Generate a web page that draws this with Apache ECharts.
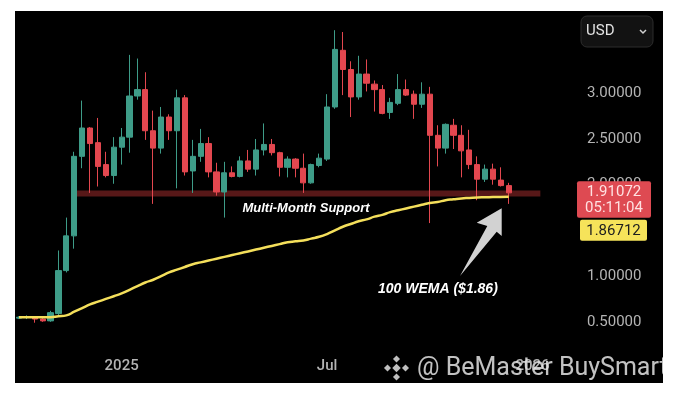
<!DOCTYPE html>
<html>
<head>
<meta charset="utf-8">
<script src="https://cdn.jsdelivr.net/npm/echarts@6/dist/echarts.min.js"></script>
<style>
  html, body { margin: 0; padding: 0; background: #fff; }
  #chart { position: absolute; left: 15px; top: 11px; width: 648px; height: 372px; background: #000; }
</style>
</head>
<body>
<div id="chart"></div>
<script>
// weekly candles, first one is the week of 2024-10-07
var startDay = Date.UTC(2024, 9, 7);
var weekCount = 71;
var weeks = [];
for (var k = 0; k < weekCount; k++) {
  weeks.push(new Date(startDay + k * 7 * 864e5).toISOString().slice(0, 10));
}

var tickDates = ['2025-01-06', '2025-07-07', '2026-01-05'];
var tickTexts = ['2025', 'Jul', '2026'];

var opens  = [0.54, 0.55, 0.555, 0.53, 0.51, 0.59, 1.06, 1.44, 2.31, 2.62, 2.46, 2.22, 2.10, 2.41, 2.52, 2.97, 3.04, 2.59, 2.40, 2.74, 2.59, 2.95, 2.15, 2.31, 2.45, 2.14, 1.92, 2.13, 2.09, 2.26, 2.17, 2.38, 2.44, 2.35, 2.19, 2.28, 2.18, 2.02, 2.21, 2.28, 2.85, 3.47, 3.26, 2.96, 3.21, 3.10, 3.04, 2.79, 2.89, 3.04, 2.99, 2.88, 2.99, 2.54, 2.40, 2.65, 2.54, 2.38, 2.22, 2.06, 2.17, 2.05, 1.99];
var closes = [0.55, 0.555, 0.53, 0.51, 0.60, 1.06, 1.44, 2.31, 2.62, 2.45, 2.20, 2.10, 2.41, 2.52, 2.97, 3.04, 2.59, 2.40, 2.74, 2.59, 2.95, 2.14, 2.31, 2.45, 2.14, 1.92, 2.13, 2.09, 2.26, 2.17, 2.38, 2.44, 2.35, 2.19, 2.28, 2.18, 2.02, 2.22, 2.29, 2.85, 3.48, 3.26, 2.96, 3.21, 3.11, 3.04, 2.78, 2.90, 3.04, 2.98, 2.88, 2.99, 2.54, 2.40, 2.66, 2.54, 2.37, 2.22, 2.06, 2.17, 2.06, 1.99, 1.91072];
var lows   = [0.53, 0.53, 0.49, 0.50, 0.50, 0.57, 1.04, 1.30, 2.18, 1.91, 1.98, 2.08, 2.01, 2.22, 2.35, 2.93, 2.49, 1.79, 2.34, 2.49, 1.96, 2.10, 1.91, 2.25, 2.08, 1.88, 1.64, 2.08, 2.08, 2.14, 2.10, 2.32, 2.32, 2.09, 2.08, 2.08, 1.91, 2.01, 2.19, 2.26, 2.83, 2.98, 2.74, 2.93, 3.02, 2.80, 2.77, 2.72, 2.87, 2.97, 2.72, 2.84, 1.58, 2.20, 2.34, 2.39, 2.08, 2.17, 1.83, 2.03, 2.00, 1.98, 1.79];
var highs  = [0.56, 0.57, 0.56, 0.54, 0.62, 1.28, 1.64, 2.36, 2.92, 2.63, 2.73, 2.36, 2.52, 2.62, 3.42, 3.38, 3.23, 2.81, 2.85, 2.77, 3.04, 2.98, 2.49, 2.61, 2.52, 2.24, 2.25, 2.20, 2.31, 2.38, 2.50, 2.67, 2.50, 2.36, 2.31, 2.29, 2.34, 2.23, 2.34, 2.99, 3.69, 3.67, 3.35, 3.41, 3.37, 3.14, 3.09, 2.95, 3.21, 3.15, 3.03, 3.12, 3.07, 2.65, 2.67, 2.72, 2.65, 2.60, 2.31, 2.22, 2.23, 2.19, 2.02];

// 100 week EMA
var wema = [0.55, 0.55, 0.55, 0.55, 0.55, 0.56, 0.57, 0.61, 0.65, 0.69, 0.72, 0.75, 0.78, 0.81, 0.85, 0.89, 0.93, 0.96, 1.00, 1.04, 1.07, 1.10, 1.13, 1.15, 1.17, 1.19, 1.21, 1.23, 1.25, 1.27, 1.29, 1.31, 1.33, 1.35, 1.37, 1.38, 1.39, 1.41, 1.43, 1.46, 1.50, 1.54, 1.57, 1.60, 1.62, 1.65, 1.67, 1.70, 1.72, 1.74, 1.76, 1.78, 1.80, 1.81, 1.83, 1.84, 1.85, 1.855, 1.86, 1.862, 1.864, 1.866, 1.86712];

var supportLow = 1.87;
var supportHigh = 1.935;
var supportFrom = '2024-11-25';
var supportTo = '2026-01-12';

var countdown = '05:11:04';

var upColor = '#3e9c88';
var downColor = '#e3474f';

var candleData = [];
for (var i = 0; i < opens.length; i++) {
  candleData.push([opens[i], closes[i], lows[i], highs[i]]);
}

var mychart = echarts.init(document.getElementById('chart'));

var option = {
  backgroundColor: '#000',
  animation: false,
  grid: {
    left: 0,
    right: 87.1,
    top: 0,
    bottom: 15.5
  },
  xAxis: {
    type: 'category',
    data: weeks,
    boundaryGap: true,
    axisLine: { show: false },
    axisTick: { show: false },
    splitLine: { show: false },
    axisLabel: {
      interval: function (idx, value) { return tickDates.indexOf(value) >= 0; },
      formatter: function (value) {
        var n = tickDates.indexOf(value);
        return n >= 0 ? tickTexts[n] : '';
      },
      color: '#b4b4b4',
      fontFamily: 'Roboto',
      fontWeight: 500,
      fontSize: 15,
      margin: -9
    }
  },
  yAxis: {
    type: 'value',
    position: 'right',
    min: 0,
    max: 3.9,
    interval: 0.5,
    axisLine: { show: false },
    axisTick: { show: false },
    splitLine: { show: false },
    axisLabel: {
      color: '#b4b4b4',
      fontFamily: 'Roboto',
      fontSize: 15,
      margin: 11,
      showMaxLabel: false,
      formatter: function (v) {
        return (v >= 0.5 && v <= 3.0) ? v.toFixed(5) : '';
      }
    }
  },
  series: [
    {
      type: 'candlestick',
      data: candleData,
      barWidth: 5.7,
      z: 3,
      itemStyle: {
        color: upColor,
        color0: downColor,
        borderColor: upColor,
        borderColor0: downColor,
        borderWidth: 1
      },
      markArea: {
        silent: true,
        itemStyle: { color: 'rgba(140, 38, 38, 0.62)' },
        data: [[
          { xAxis: supportFrom, yAxis: supportLow },
          { xAxis: supportTo, yAxis: supportHigh }
        ]]
      }
    },
    {
      type: 'line',
      data: wema,
      symbol: 'none',
      smooth: true,
      z: 4,
      lineStyle: { color: '#f4df5b', width: 2.5 }
    }
  ]
};

mychart.setOption(option);

// price tags on the right, anchored to the last close
var lastClose = closes[closes.length - 1];
var lastWema = wema[wema.length - 1];
var closeY = mychart.convertToPixel({ yAxisIndex: 0 }, lastClose);
var tagTop = closeY - 11.5;

mychart.setOption({
  graphic: [
    {
      type: 'group',
      children: [
        // USD selector
        {
          type: 'rect',
          shape: { x: 566, y: 5, width: 72, height: 31, r: 6 },
          style: { fill: '#121212', stroke: '#2c2c2c', lineWidth: 1 }
        },
        {
          type: 'text',
          style: { x: 571, y: 20.5, text: 'USD', fill: '#e2e2e2', font: '15px Roboto', verticalAlign: 'middle' }
        },
        {
          type: 'polyline',
          shape: { points: [[625, 19], [628, 22], [631, 19]] },
          style: { stroke: '#d0d0d0', lineWidth: 1.5, fill: null }
        },
        // last price tag
        {
          type: 'rect',
          z: 10,
          shape: { x: 562, y: tagTop, width: 74, height: 36.5, r: 2 },
          style: { fill: '#de4a52' }
        },
        {
          type: 'text',
          z: 11,
          style: { x: 599, y: tagTop + 10.5, text: lastClose.toFixed(5), fill: '#ffe1e1', font: '15px Roboto', align: 'center', verticalAlign: 'middle' }
        },
        {
          type: 'text',
          z: 11,
          style: { x: 599, y: tagTop + 27, text: countdown, fill: '#ffe1e1', font: '15px Roboto', align: 'center', verticalAlign: 'middle' }
        },
        // 100 WEMA tag
        {
          type: 'rect',
          z: 10,
          shape: { x: 565, y: tagTop + 38.5, width: 67, height: 21, r: 2 },
          style: { fill: '#f6e35a' }
        },
        {
          type: 'text',
          z: 11,
          style: { x: 598.5, y: tagTop + 49.5, text: lastWema.toFixed(5), fill: '#1e1e1e', font: '15px Roboto', align: 'center', verticalAlign: 'middle' }
        },
        // annotations
        {
          type: 'text',
          z: 12,
          style: { x: 291, y: 197, text: 'Multi-Month Support', fill: '#ffffff', font: 'italic bold 13px "Liberation Sans"', align: 'center', verticalAlign: 'middle' }
        },
        {
          type: 'polygon',
          z: 12,
          shape: { points: [[486.7, 197.3], [461.7, 211.7], [472.3, 215], [445, 265], [481.7, 220.7], [486.7, 225]] },
          style: { fill: '#d2d2d2' }
        },
        {
          type: 'text',
          z: 12,
          style: { x: 363, y: 278.5, text: '100 WEMA ($1.86)', fill: '#ffffff', font: 'italic bold 14px "Liberation Sans"', verticalAlign: 'middle' }
        },
        // watermark
        {
          type: 'group',
          z: 20,
          x: 381.5,
          y: 357,
          children: [
            { type: 'rect', rotation: Math.PI / 4, shape: { x: -3, y: -3, width: 6, height: 6 }, style: { fill: 'rgba(225,225,225,0.85)' } },
            { type: 'rect', x: 0, y: -9, rotation: Math.PI / 4, shape: { x: -2.5, y: -2.5, width: 5, height: 5 }, style: { fill: 'rgba(225,225,225,0.85)' } },
            { type: 'rect', x: 0, y: 9, rotation: Math.PI / 4, shape: { x: -2.5, y: -2.5, width: 5, height: 5 }, style: { fill: 'rgba(225,225,225,0.85)' } },
            { type: 'rect', x: -9, y: 0, rotation: Math.PI / 4, shape: { x: -2.5, y: -2.5, width: 5, height: 5 }, style: { fill: 'rgba(225,225,225,0.85)' } },
            { type: 'rect', x: 9, y: 0, rotation: Math.PI / 4, shape: { x: -2.5, y: -2.5, width: 5, height: 5 }, style: { fill: 'rgba(225,225,225,0.85)' } }
          ]
        },
        {
          type: 'text',
          z: 20,
          style: { x: 402, y: 358, text: '@ BeMaster BuySmart', fill: 'rgba(228,228,228,0.85)', font: '25px Roboto', verticalAlign: 'middle' }
        }
      ]
    }
  ]
});
</script>
</body>
</html>
